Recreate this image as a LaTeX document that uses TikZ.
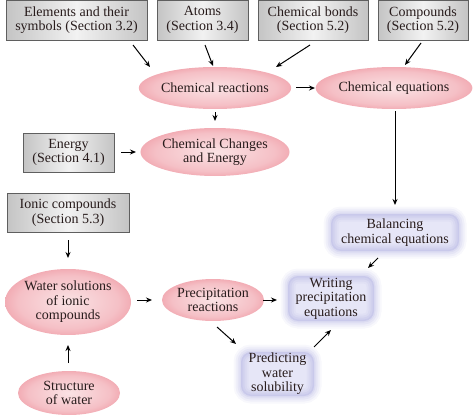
\documentclass[tikz,border=0pt]{standalone}
\usepackage{fontspec}
\setmainfont{Liberation Serif}
\usetikzlibrary{arrows.meta,shapes.geometric}
\definecolor{txt}{RGB}{40,28,28}
\definecolor{rc}{RGB}{250,226,228}
\definecolor{rm}{RGB}{245,192,198}
\definecolor{rr}{RGB}{236,134,146}
\definecolor{bin}{RGB}{230,230,247}
\definecolor{bring}{RGB}{150,150,215}
\definecolor{gdark}{RGB}{196,196,196}
\definecolor{glight}{RGB}{242,242,242}
\definecolor{gline}{RGB}{95,95,95}
\pgfdeclareradialshading{redblur}{\pgfpoint{0bp}{0bp}}{color(0bp)=(rc); color(20bp)=(rm); color(35bp)=(rr); color(42bp)=(rr!65!white); color(50bp)=(white)}
\tikzset{
  every node/.style={text=txt, font=\fontsize{14}{14.5}\selectfont, align=center, inner sep=0pt},
  graybox/.style={rectangle, draw=gline, line width=0.8pt, left color=gdark, right color=gdark, middle color=glight},
  redell/.style={ellipse, shade, shading=redblur},
  bluebox/.style={rectangle, rounded corners=10pt, fill=bin,
     postaction={draw=bring, line width=15pt, draw opacity=0.07},
     postaction={draw=bring, line width=11pt, draw opacity=0.09},
     postaction={draw=bring, line width=7pt, draw opacity=0.11},
     postaction={draw=bring, line width=3pt, draw opacity=0.13}},
  arr/.style={-{Stealth[length=6pt,width=5pt]}, line width=1pt, black}
}
\begin{document}
\begin{tikzpicture}[x=1pt,y=-1pt]
\useasboundingbox (0,0) rectangle (474,420);
% gray boxes
\node[graybox, minimum width=141pt, minimum height=40pt] (e1) at (76.5,20) {Elements and their\\symbols (Section 3.2)};
\node[graybox, minimum width=91pt, minimum height=40pt] (e2) at (202.5,20) {Atoms\\(Section 3.4)};
\node[graybox, minimum width=110pt, minimum height=40pt] (e3) at (313,20) {Chemical bonds\\(Section 5.2)};
\node[graybox, minimum width=90pt, minimum height=40pt] (e4) at (423,20) {Compounds\\(Section 5.2)};
\node[graybox, minimum width=91pt, minimum height=39pt] (en) at (68.5,152.5) {Energy\\(Section 4.1)};
\node[graybox, minimum width=122pt, minimum height=39pt] (io) at (68,212.5) {Ionic compounds\\(Section 5.3)};
% red ellipses
\node[redell, minimum width=150pt, minimum height=42pt] (cr) at (215,88) {Chemical reactions};
\node[redell, minimum width=148pt, minimum height=42pt] (ce) at (394,88) {Chemical equations};
\node[redell, minimum width=144pt, minimum height=48pt] (cc) at (215,152) {Chemical Changes\\and Energy};
\node[redell, minimum width=126pt, minimum height=66pt] (ws) at (68,302) {Water solutions\\of ionic\\compounds};
\node[redell, minimum width=102pt, minimum height=42pt] (pr) at (213,300) {Precipitation\\reactions};
\node[redell, minimum width=102pt, minimum height=44pt] (sw) at (69,393) {Structure\\of water};
% blue boxes
\node[bluebox, minimum width=128pt, minimum height=37pt] (bal) at (395,232.5) {Balancing\\chemical equations};
\node[bluebox, minimum width=86pt, minimum height=45pt] (wr) at (331,298.5) {Writing\\precipitation\\equations};
\node[bluebox, minimum width=73pt, minimum height=44pt] (pd) at (277.5,374) {Predicting\\water\\solubility};
% arrows
\draw[arr] ([shift={(56.5,25)}]e1.center) -- ([shift={(-65,-21)}]cr.center);
\draw[arr] ([shift={(2.5,25)}]e2.center) -- ([shift={(-2,-22)}]cr.center);
\draw[arr] ([shift={(-3,25)}]e3.center) -- ([shift={(61,-21)}]cr.center);
\draw[arr] ([shift={(-2,23)}]e4.center) -- ([shift={(11,-23)}]ce.center);
\draw[arr] ([shift={(81,0)}]cr.center) -- ([shift={(-79,0)}]ce.center);
\draw[arr] ([shift={(0,24)}]cr.center) -- ([shift={(0,-31)}]cc.center);
\draw[arr] ([shift={(52.5,-0.5)}]en.center) -- ([shift={(-79,0)}]cc.center);
\draw[arr] ([shift={(1,23)}]ce.center) -- ([shift={(0,-27.5)}]bal.center);
\draw[arr] ([shift={(0,27.5)}]io.center) -- ([shift={(0,-44)}]ws.center);
\draw[arr] ([shift={(-17,25.5)}]bal.center) -- ([shift={(37,-30.5)}]wr.center);
\draw[arr] ([shift={(69,-2)}]ws.center) -- ([shift={(-61,0)}]pr.center);
\draw[arr] ([shift={(50,0)}]pr.center) -- ([shift={(-54,1.5)}]wr.center);
\draw[arr] ([shift={(4,27)}]pr.center) -- ([shift={(-41.5,-30)}]pd.center);
\draw[arr] ([shift={(36.5,-27)}]pd.center) -- ([shift={(0,31.5)}]wr.center);
\draw[arr] ([shift={(-1,-30)}]sw.center) -- ([shift={(0,43)}]ws.center);
\end{tikzpicture}
\end{document}
